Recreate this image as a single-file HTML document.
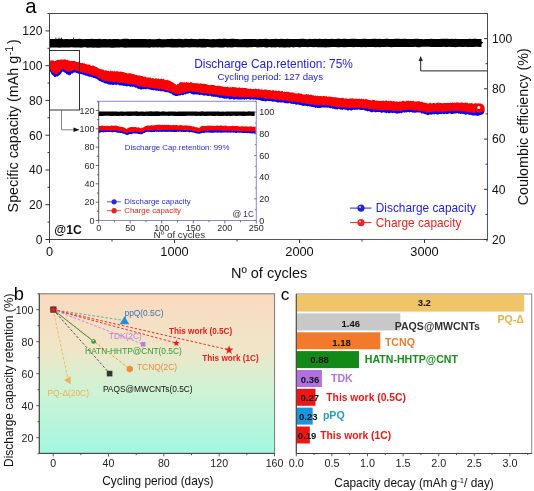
<!DOCTYPE html>
<html><head><meta charset="utf-8"><style>
html,body{margin:0;padding:0;background:#fff;width:534px;height:491px;overflow:hidden;}
svg{display:block;will-change:transform;}
text{font-family:"Liberation Sans", sans-serif;}
</style></head><body>
<svg width="534" height="491" viewBox="0 0 534 491" font-family='"Liberation Sans", sans-serif'>
<rect width="534" height="491" fill="#fff"/>
<path d="M49.5,38.9 L51.5,39.0 L53.5,38.9 L55.5,39.1 L57.5,39.1 L59.5,38.8 L61.5,38.8 L63.5,39.2 L65.5,38.9 L67.5,38.9 L69.5,39.2 L71.5,39.0 L73.5,39.2 L75.5,39.0 L77.5,39.1 L79.5,38.8 L81.5,39.1 L83.5,39.2 L85.5,39.0 L87.5,39.1 L89.5,39.1 L91.5,38.8 L93.5,39.1 L95.5,39.0 L97.5,38.9 L99.5,38.8 L101.5,39.2 L103.5,39.0 L105.5,39.1 L107.5,39.2 L109.5,39.1 L111.5,39.2 L113.5,38.9 L115.5,39.1 L117.5,39.0 L119.5,39.2 L121.5,39.2 L123.5,38.8 L125.5,38.8 L127.5,38.8 L129.5,39.2 L131.5,38.9 L133.5,39.0 L135.5,38.9 L137.5,39.0 L139.5,38.9 L141.5,38.9 L143.5,39.0 L145.5,39.0 L147.5,39.2 L149.5,39.1 L151.5,39.2 L153.5,39.2 L155.5,39.2 L157.5,39.1 L159.5,38.8 L161.5,39.2 L163.5,39.2 L165.5,39.2 L167.5,39.0 L169.5,39.1 L171.5,38.8 L173.5,39.1 L175.5,39.0 L177.5,38.9 L179.5,38.8 L181.5,39.1 L183.5,39.2 L185.5,38.8 L187.5,39.1 L189.5,38.9 L191.5,38.8 L193.5,38.9 L195.5,39.1 L197.5,39.2 L199.5,38.7 L201.5,39.0 L203.5,38.7 L205.5,39.1 L207.5,38.9 L209.5,39.2 L211.5,39.2 L213.5,39.0 L215.5,39.2 L217.5,38.9 L219.5,38.7 L221.5,39.0 L223.5,38.7 L225.5,38.8 L227.5,38.9 L229.5,39.0 L231.5,38.8 L233.5,38.7 L235.5,39.1 L237.5,38.9 L239.5,39.2 L241.5,39.2 L243.5,38.9 L245.5,38.9 L247.5,39.0 L249.5,39.0 L251.5,39.0 L253.5,39.0 L255.5,39.0 L257.5,39.2 L259.5,39.0 L261.5,38.9 L263.5,39.1 L265.5,38.8 L267.5,38.9 L269.5,39.2 L271.5,39.0 L273.5,39.0 L275.5,38.7 L277.5,38.9 L279.5,39.0 L281.5,38.7 L283.5,39.0 L285.5,39.0 L287.5,38.7 L289.5,39.0 L291.5,38.9 L293.5,39.0 L295.5,38.9 L297.5,39.0 L299.5,39.1 L301.5,38.7 L303.5,38.7 L305.5,39.0 L307.5,39.2 L309.5,38.8 L311.5,38.9 L313.5,39.0 L315.5,38.8 L317.5,38.9 L319.5,38.8 L321.5,38.9 L323.5,39.0 L325.5,38.8 L327.5,38.9 L329.5,39.1 L331.5,38.7 L333.5,39.0 L335.5,39.1 L337.5,38.8 L339.5,38.8 L341.5,39.1 L343.5,38.8 L345.5,38.8 L347.5,38.9 L349.5,39.0 L351.5,38.7 L353.5,38.8 L355.5,38.8 L357.5,39.1 L359.5,38.9 L361.5,39.1 L363.5,38.8 L365.5,38.8 L367.5,39.0 L369.5,39.1 L371.5,38.9 L373.5,38.8 L375.5,38.7 L377.5,38.9 L379.5,38.8 L381.5,39.1 L383.5,39.1 L385.5,38.8 L387.5,38.8 L389.5,39.1 L391.5,39.0 L393.5,39.1 L395.5,38.8 L397.5,38.7 L399.5,38.8 L401.5,39.1 L403.5,38.8 L405.5,38.8 L407.5,38.9 L409.5,38.9 L411.5,38.9 L413.5,39.1 L415.5,38.7 L417.5,38.7 L419.5,39.1 L421.5,39.1 L423.5,39.2 L425.5,38.9 L427.5,39.1 L429.5,39.1 L431.5,38.8 L433.5,39.0 L435.5,39.1 L437.5,39.0 L439.5,38.9 L441.5,38.8 L443.5,38.8 L445.5,38.8 L447.5,38.7 L449.5,39.0 L451.5,38.8 L453.5,39.1 L455.5,38.7 L457.5,39.1 L459.5,39.0 L461.5,39.1 L463.5,39.1 L465.5,39.1 L467.5,38.9 L469.5,38.7 L471.5,39.0 L473.5,38.7 L475.5,38.8 L477.5,39.0 L479.5,38.9 L481.5,38.9 L481.5,47.1 L479.5,47.0 L477.5,46.8 L475.5,46.8 L473.5,47.1 L471.5,46.9 L469.5,47.1 L467.5,46.9 L465.5,46.8 L463.5,47.0 L461.5,47.1 L459.5,46.8 L457.5,47.1 L455.5,47.2 L453.5,47.1 L451.5,47.1 L449.5,46.7 L447.5,47.0 L445.5,47.1 L443.5,46.7 L441.5,46.9 L439.5,46.9 L437.5,47.0 L435.5,46.9 L433.5,47.0 L431.5,47.1 L429.5,46.7 L427.5,46.8 L425.5,46.8 L423.5,46.8 L421.5,46.8 L419.5,47.2 L417.5,47.2 L415.5,46.8 L413.5,47.0 L411.5,46.9 L409.5,46.9 L407.5,47.0 L405.5,47.1 L403.5,47.1 L401.5,47.0 L399.5,46.9 L397.5,47.0 L395.5,46.9 L393.5,47.1 L391.5,47.2 L389.5,47.0 L387.5,46.8 L385.5,46.9 L383.5,47.0 L381.5,47.1 L379.5,47.2 L377.5,47.0 L375.5,47.2 L373.5,47.1 L371.5,47.1 L369.5,47.0 L367.5,47.1 L365.5,47.2 L363.5,47.1 L361.5,47.2 L359.5,47.1 L357.5,47.0 L355.5,47.1 L353.5,47.2 L351.5,46.9 L349.5,47.1 L347.5,47.1 L345.5,47.3 L343.5,47.3 L341.5,47.1 L339.5,47.3 L337.5,47.3 L335.5,47.0 L333.5,47.1 L331.5,47.0 L329.5,47.3 L327.5,47.2 L325.5,47.4 L323.5,47.3 L321.5,47.2 L319.5,47.3 L317.5,47.2 L315.5,47.0 L313.5,47.2 L311.5,46.9 L309.5,47.0 L307.5,47.3 L305.5,47.0 L303.5,47.0 L301.5,47.0 L299.5,47.4 L297.5,47.0 L295.5,47.0 L293.5,47.4 L291.5,47.0 L289.5,47.4 L287.5,47.3 L285.5,47.4 L283.5,47.5 L281.5,47.3 L279.5,47.4 L277.5,47.0 L275.5,47.4 L273.5,47.2 L271.5,47.4 L269.5,47.1 L267.5,47.4 L265.5,47.5 L263.5,47.0 L261.5,47.2 L259.5,47.3 L257.5,47.4 L255.5,47.1 L253.5,47.1 L251.5,47.2 L249.5,47.3 L247.5,47.4 L245.5,47.2 L243.5,47.2 L241.5,47.2 L239.5,47.2 L237.5,47.3 L235.5,47.1 L233.5,47.3 L231.5,47.5 L229.5,47.3 L227.5,47.4 L225.5,47.1 L223.5,47.4 L221.5,47.5 L219.5,47.4 L217.5,47.3 L215.5,47.3 L213.5,47.4 L211.5,47.5 L209.5,47.2 L207.5,47.1 L205.5,47.5 L203.5,47.6 L201.5,47.4 L199.5,47.3 L197.5,47.5 L195.5,47.2 L193.5,47.3 L191.5,47.2 L189.5,47.4 L187.5,47.3 L185.5,47.2 L183.5,47.5 L181.5,47.6 L179.5,47.3 L177.5,47.5 L175.5,47.4 L173.5,47.6 L171.5,47.4 L169.5,47.3 L167.5,47.3 L165.5,47.2 L163.5,47.4 L161.5,47.4 L159.5,47.3 L157.5,47.4 L155.5,47.3 L153.5,47.6 L151.5,47.3 L149.5,47.7 L147.5,47.4 L145.5,47.5 L143.5,47.4 L141.5,47.6 L139.5,47.6 L137.5,47.5 L135.5,47.5 L133.5,47.6 L131.5,47.6 L129.5,47.4 L127.5,47.6 L125.5,47.7 L123.5,47.5 L121.5,47.3 L119.5,47.4 L117.5,47.6 L115.5,47.6 L113.5,47.7 L111.5,47.7 L109.5,47.4 L107.5,47.4 L105.5,47.4 L103.5,47.4 L101.5,47.6 L99.5,47.7 L97.5,47.7 L95.5,47.4 L93.5,47.7 L91.5,47.4 L89.5,47.5 L87.5,47.7 L85.5,47.3 L83.5,47.3 L81.5,47.7 L79.5,47.4 L77.5,47.5 L75.5,47.6 L73.5,47.6 L71.5,47.3 L69.5,47.5 L67.5,47.5 L65.5,47.6 L63.5,47.4 L61.5,47.6 L59.5,47.8 L57.5,47.5 L55.5,47.6 L53.5,47.4 L51.5,47.5 L49.5,47.7Z" fill="#000"/>
<rect x="55.5" y="37.6" width="0.8" height="2" fill="#000"/>
<rect x="58.5" y="37.6" width="0.8" height="2" fill="#000"/>
<rect x="61" y="37.6" width="0.8" height="2" fill="#000"/>
<rect x="73" y="37.6" width="0.8" height="2" fill="#000"/>
<path d="M483.5,42.5 L478,40 L479,45.5Z" fill="#000"/>
<path d="M49.5,66.9 L50.5,68.3 L51.5,69.8 L52.5,70.2 L53.5,71.5 L54.5,71.7 L55.5,72.2 L56.5,72.0 L57.5,71.2 L58.5,71.0 L59.5,70.3 L60.5,69.5 L61.5,67.8 L62.5,67.0 L63.5,67.0 L64.5,67.8 L65.5,68.6 L66.5,68.9 L67.5,69.6 L68.5,69.9 L69.5,70.1 L70.5,69.6 L71.5,69.0 L72.5,68.2 L73.5,68.3 L74.5,68.3 L75.5,68.1 L76.5,69.1 L77.5,69.2 L78.5,69.0 L79.5,70.0 L80.5,69.5 L81.5,70.0 L82.5,70.6 L83.5,70.7 L84.5,71.0 L85.5,71.3 L86.5,71.4 L87.5,71.5 L88.5,71.7 L89.5,71.9 L90.5,72.7 L91.5,73.1 L92.5,73.1 L93.5,73.6 L94.5,73.5 L95.5,73.9 L96.5,74.5 L97.5,75.6 L98.5,75.4 L99.5,76.4 L100.5,76.7 L101.5,77.6 L102.5,77.6 L103.5,78.0 L104.5,78.4 L105.5,78.9 L106.5,79.5 L107.5,79.3 L108.5,79.9 L109.5,79.4 L110.5,79.6 L111.5,79.6 L112.5,79.7 L113.5,80.3 L114.5,80.4 L115.5,79.9 L116.5,80.0 L117.5,80.3 L118.5,80.6 L119.5,80.8 L120.5,80.8 L121.5,80.8 L122.5,80.6 L123.5,81.0 L124.5,81.0 L125.5,81.5 L126.5,81.7 L127.5,81.5 L128.5,81.7 L129.5,82.3 L130.5,81.8 L131.5,82.6 L132.5,82.8 L133.5,83.0 L134.5,82.6 L135.5,83.0 L136.5,83.4 L137.5,83.9 L138.5,84.5 L139.5,84.7 L140.5,84.7 L141.5,85.2 L142.5,84.9 L143.5,85.0 L144.5,85.1 L145.5,84.5 L146.5,85.2 L147.5,85.3 L148.5,85.3 L149.5,85.5 L150.5,85.6 L151.5,85.6 L152.5,86.0 L153.5,85.7 L154.5,86.3 L155.5,86.5 L156.5,86.5 L157.5,86.7 L158.5,87.3 L159.5,87.4 L160.5,86.8 L161.5,87.6 L162.5,87.6 L163.5,87.3 L164.5,87.7 L165.5,87.8 L166.5,87.9 L167.5,88.5 L168.5,89.1 L169.5,88.9 L170.5,89.8 L171.5,90.1 L172.5,90.1 L173.5,91.2 L174.5,91.4 L175.5,92.1 L176.5,92.4 L177.5,92.2 L178.5,91.6 L179.5,91.7 L180.5,91.6 L181.5,91.3 L182.5,90.8 L183.5,90.9 L184.5,90.4 L185.5,89.9 L186.5,89.6 L187.5,89.5 L188.5,89.4 L189.5,89.2 L190.5,89.4 L191.5,89.7 L192.5,89.7 L193.5,89.7 L194.5,90.0 L195.5,89.8 L196.5,90.1 L197.5,90.5 L198.5,90.3 L199.5,90.3 L200.5,91.1 L201.5,91.0 L202.5,90.9 L203.5,91.0 L204.5,91.3 L205.5,91.5 L206.5,91.3 L207.5,91.2 L208.5,91.5 L209.5,92.1 L210.5,91.7 L211.5,92.1 L212.5,91.9 L213.5,92.1 L214.5,92.1 L215.5,92.4 L216.5,92.3 L217.5,92.3 L218.5,92.6 L219.5,92.8 L220.5,93.2 L221.5,93.0 L222.5,93.1 L223.5,93.6 L224.5,93.7 L225.5,94.1 L226.5,93.7 L227.5,94.1 L228.5,94.2 L229.5,94.0 L230.5,94.9 L231.5,94.2 L232.5,94.2 L233.5,94.6 L234.5,94.4 L235.5,94.8 L236.5,94.6 L237.5,94.5 L238.5,94.5 L239.5,95.1 L240.5,94.8 L241.5,95.3 L242.5,95.1 L243.5,95.5 L244.5,95.0 L245.5,95.0 L246.5,95.1 L247.5,95.6 L248.5,95.5 L249.5,95.3 L250.5,95.1 L251.5,95.5 L252.5,95.6 L253.5,95.2 L254.5,94.5 L255.5,94.5 L256.5,94.7 L257.5,95.0 L258.5,95.0 L259.5,95.2 L260.5,95.8 L261.5,96.2 L262.5,95.7 L263.5,96.6 L264.5,96.3 L265.5,96.7 L266.5,96.9 L267.5,97.1 L268.5,96.4 L269.5,96.8 L270.5,97.2 L271.5,97.6 L272.5,96.9 L273.5,97.3 L274.5,97.9 L275.5,97.3 L276.5,97.7 L277.5,97.8 L278.5,98.2 L279.5,98.5 L280.5,98.0 L281.5,98.6 L282.5,98.7 L283.5,98.9 L284.5,98.7 L285.5,99.1 L286.5,98.7 L287.5,98.9 L288.5,98.8 L289.5,99.4 L290.5,99.3 L291.5,99.2 L292.5,99.2 L293.5,99.9 L294.5,99.9 L295.5,100.1 L296.5,100.0 L297.5,100.2 L298.5,100.0 L299.5,100.6 L300.5,100.1 L301.5,100.7 L302.5,101.1 L303.5,101.2 L304.5,100.8 L305.5,101.1 L306.5,101.8 L307.5,101.8 L308.5,102.2 L309.5,102.3 L310.5,102.1 L311.5,102.7 L312.5,102.8 L313.5,102.7 L314.5,103.0 L315.5,102.8 L316.5,103.1 L317.5,103.6 L318.5,102.8 L319.5,103.3 L320.5,102.8 L321.5,102.8 L322.5,103.3 L323.5,103.0 L324.5,102.8 L325.5,102.9 L326.5,103.4 L327.5,103.5 L328.5,103.1 L329.5,103.5 L330.5,104.3 L331.5,103.8 L332.5,104.3 L333.5,104.3 L334.5,104.8 L335.5,104.8 L336.5,105.1 L337.5,105.0 L338.5,104.8 L339.5,104.9 L340.5,104.9 L341.5,105.6 L342.5,105.1 L343.5,105.1 L344.5,106.1 L345.5,105.5 L346.5,106.2 L347.5,105.6 L348.5,105.9 L349.5,105.7 L350.5,106.2 L351.5,106.0 L352.5,105.9 L353.5,106.0 L354.5,106.1 L355.5,105.5 L356.5,105.7 L357.5,105.6 L358.5,105.2 L359.5,105.8 L360.5,105.7 L361.5,106.0 L362.5,105.6 L363.5,106.1 L364.5,106.2 L365.5,106.6 L366.5,106.1 L367.5,106.5 L368.5,106.8 L369.5,106.6 L370.5,107.2 L371.5,107.5 L372.5,107.3 L373.5,107.6 L374.5,107.7 L375.5,107.5 L376.5,107.6 L377.5,108.3 L378.5,107.7 L379.5,107.8 L380.5,107.6 L381.5,107.7 L382.5,107.7 L383.5,108.5 L384.5,108.3 L385.5,108.5 L386.5,108.7 L387.5,108.4 L388.5,108.7 L389.5,108.4 L390.5,108.4 L391.5,108.9 L392.5,108.9 L393.5,109.0 L394.5,108.6 L395.5,108.9 L396.5,108.6 L397.5,109.2 L398.5,109.1 L399.5,108.5 L400.5,108.9 L401.5,108.2 L402.5,108.0 L403.5,108.5 L404.5,108.0 L405.5,108.1 L406.5,108.1 L407.5,107.4 L408.5,108.0 L409.5,107.5 L410.5,107.8 L411.5,107.8 L412.5,108.3 L413.5,108.4 L414.5,108.1 L415.5,108.0 L416.5,108.3 L417.5,108.5 L418.5,108.3 L419.5,108.4 L420.5,109.2 L421.5,109.3 L422.5,109.8 L423.5,110.1 L424.5,110.2 L425.5,110.0 L426.5,110.1 L427.5,110.3 L428.5,110.3 L429.5,110.2 L430.5,110.1 L431.5,109.9 L432.5,110.2 L433.5,109.6 L434.5,109.6 L435.5,109.9 L436.5,109.8 L437.5,109.3 L438.5,109.3 L439.5,109.8 L440.5,109.0 L441.5,109.1 L442.5,109.4 L443.5,109.4 L444.5,109.0 L445.5,108.9 L446.5,109.0 L447.5,109.5 L448.5,109.2 L449.5,109.6 L450.5,109.4 L451.5,109.5 L452.5,108.6 L453.5,108.7 L454.5,108.5 L455.5,108.8 L456.5,108.7 L457.5,108.4 L458.5,108.9 L459.5,108.7 L460.5,109.0 L461.5,109.1 L462.5,109.8 L463.5,109.6 L464.5,109.6 L465.5,109.5 L466.5,110.1 L467.5,110.4 L468.5,110.6 L469.5,110.9 L470.5,110.9 L471.5,110.4 L472.5,110.3 L473.5,111.0 L474.5,111.0 L475.5,110.8 L476.5,111.2 L477.5,111.0 L478.5,110.8 L479.5,110.7 L479.5,115.2 L478.5,115.7 L477.5,115.8 L476.5,115.8 L475.5,115.3 L474.5,115.4 L473.5,115.5 L472.5,115.4 L471.5,115.1 L470.5,114.8 L469.5,114.9 L468.5,114.4 L467.5,114.3 L466.5,114.6 L465.5,114.8 L464.5,114.2 L463.5,114.0 L462.5,113.8 L461.5,113.7 L460.5,113.9 L459.5,113.5 L458.5,113.8 L457.5,113.0 L456.5,113.2 L455.5,113.4 L454.5,113.4 L453.5,113.8 L452.5,113.9 L451.5,114.0 L450.5,113.8 L449.5,113.3 L448.5,113.8 L447.5,113.9 L446.5,113.9 L445.5,113.7 L444.5,114.1 L443.5,114.3 L442.5,113.6 L441.5,114.2 L440.5,113.9 L439.5,114.1 L438.5,114.5 L437.5,114.5 L436.5,114.3 L435.5,113.9 L434.5,114.6 L433.5,114.0 L432.5,114.3 L431.5,114.8 L430.5,114.4 L429.5,114.4 L428.5,115.1 L427.5,115.2 L426.5,114.5 L425.5,114.3 L424.5,113.9 L423.5,113.5 L422.5,113.3 L421.5,113.7 L420.5,112.6 L419.5,112.5 L418.5,112.4 L417.5,112.3 L416.5,112.6 L415.5,112.8 L414.5,112.8 L413.5,112.6 L412.5,112.7 L411.5,111.9 L410.5,112.1 L409.5,112.6 L408.5,111.9 L407.5,112.1 L406.5,112.4 L405.5,112.3 L404.5,112.7 L403.5,112.3 L402.5,112.6 L401.5,113.4 L400.5,112.7 L399.5,113.5 L398.5,113.0 L397.5,113.7 L396.5,113.4 L395.5,113.3 L394.5,112.8 L393.5,112.7 L392.5,113.3 L391.5,112.7 L390.5,112.7 L389.5,113.2 L388.5,113.2 L387.5,112.5 L386.5,113.2 L385.5,112.8 L384.5,112.6 L383.5,112.3 L382.5,112.5 L381.5,113.0 L380.5,112.3 L379.5,112.1 L378.5,112.1 L377.5,112.0 L376.5,112.1 L375.5,112.6 L374.5,111.8 L373.5,111.7 L372.5,112.3 L371.5,112.2 L370.5,112.0 L369.5,111.2 L368.5,111.1 L367.5,111.4 L366.5,110.8 L365.5,110.8 L364.5,110.2 L363.5,109.8 L362.5,109.9 L361.5,110.0 L360.5,109.9 L359.5,109.6 L358.5,109.6 L357.5,109.7 L356.5,109.7 L355.5,109.8 L354.5,110.1 L353.5,109.6 L352.5,110.0 L351.5,110.4 L350.5,110.4 L349.5,109.8 L348.5,110.6 L347.5,110.5 L346.5,109.8 L345.5,109.7 L344.5,109.6 L343.5,109.3 L342.5,110.1 L341.5,109.5 L340.5,109.8 L339.5,109.0 L338.5,108.8 L337.5,109.5 L336.5,109.3 L335.5,109.3 L334.5,108.9 L333.5,108.6 L332.5,108.7 L331.5,107.9 L330.5,108.2 L329.5,108.0 L328.5,107.5 L327.5,107.8 L326.5,107.4 L325.5,107.5 L324.5,107.4 L323.5,107.4 L322.5,107.4 L321.5,107.6 L320.5,108.0 L319.5,108.0 L318.5,107.9 L317.5,107.9 L316.5,107.4 L315.5,108.0 L314.5,107.3 L313.5,106.9 L312.5,107.0 L311.5,107.0 L310.5,106.5 L309.5,106.6 L308.5,106.1 L307.5,106.6 L306.5,106.0 L305.5,105.8 L304.5,105.7 L303.5,105.9 L302.5,105.8 L301.5,105.3 L300.5,105.0 L299.5,105.0 L298.5,104.4 L297.5,104.5 L296.5,104.8 L295.5,104.6 L294.5,103.8 L293.5,104.3 L292.5,103.7 L291.5,104.1 L290.5,103.4 L289.5,103.1 L288.5,103.3 L287.5,103.5 L286.5,103.0 L285.5,103.3 L284.5,103.0 L283.5,102.6 L282.5,102.5 L281.5,102.6 L280.5,102.4 L279.5,102.2 L278.5,102.4 L277.5,102.5 L276.5,102.1 L275.5,101.7 L274.5,101.6 L273.5,101.7 L272.5,101.8 L271.5,101.3 L270.5,101.1 L269.5,101.3 L268.5,101.1 L267.5,100.8 L266.5,101.2 L265.5,101.4 L264.5,100.9 L263.5,100.9 L262.5,100.9 L261.5,100.7 L260.5,100.6 L259.5,100.0 L258.5,100.1 L257.5,99.4 L256.5,100.0 L255.5,99.4 L254.5,99.4 L253.5,99.8 L252.5,99.3 L251.5,99.2 L250.5,99.8 L249.5,99.6 L248.5,99.1 L247.5,99.1 L246.5,99.4 L245.5,99.1 L244.5,99.8 L243.5,99.2 L242.5,99.3 L241.5,99.4 L240.5,99.5 L239.5,99.4 L238.5,99.6 L237.5,99.6 L236.5,99.3 L235.5,98.9 L234.5,99.7 L233.5,99.4 L232.5,98.8 L231.5,99.0 L230.5,99.3 L229.5,99.4 L228.5,98.5 L227.5,98.4 L226.5,98.7 L225.5,98.4 L224.5,98.7 L223.5,98.5 L222.5,97.9 L221.5,97.8 L220.5,97.8 L219.5,97.9 L218.5,97.2 L217.5,97.2 L216.5,96.8 L215.5,97.1 L214.5,96.4 L213.5,97.1 L212.5,96.5 L211.5,96.4 L210.5,95.8 L209.5,95.8 L208.5,95.9 L207.5,96.1 L206.5,95.6 L205.5,95.3 L204.5,95.8 L203.5,95.4 L202.5,95.1 L201.5,94.7 L200.5,94.7 L199.5,95.2 L198.5,94.4 L197.5,94.6 L196.5,94.6 L195.5,94.2 L194.5,94.5 L193.5,94.4 L192.5,94.2 L191.5,93.9 L190.5,93.2 L189.5,93.1 L188.5,93.6 L187.5,93.7 L186.5,93.8 L185.5,94.6 L184.5,94.2 L183.5,94.9 L182.5,95.2 L181.5,94.7 L180.5,95.6 L179.5,95.5 L178.5,95.6 L177.5,95.9 L176.5,96.1 L175.5,96.0 L174.5,95.4 L173.5,95.3 L172.5,94.8 L171.5,93.6 L170.5,93.5 L169.5,92.9 L168.5,92.4 L167.5,92.3 L166.5,92.1 L165.5,92.2 L164.5,91.7 L163.5,91.3 L162.5,91.3 L161.5,91.3 L160.5,91.2 L159.5,90.8 L158.5,91.0 L157.5,90.4 L156.5,90.7 L155.5,90.5 L154.5,90.0 L153.5,90.4 L152.5,89.9 L151.5,89.9 L150.5,89.7 L149.5,89.6 L148.5,89.3 L147.5,88.8 L146.5,89.2 L145.5,89.3 L144.5,89.1 L143.5,89.2 L142.5,89.1 L141.5,89.8 L140.5,89.6 L139.5,88.8 L138.5,88.9 L137.5,88.6 L136.5,87.6 L135.5,87.8 L134.5,87.0 L133.5,86.6 L132.5,87.0 L131.5,86.6 L130.5,86.8 L129.5,86.6 L128.5,86.0 L127.5,86.3 L126.5,86.4 L125.5,85.9 L124.5,85.8 L123.5,86.0 L122.5,85.4 L121.5,85.3 L120.5,85.3 L119.5,85.4 L118.5,84.7 L117.5,84.5 L116.5,85.1 L115.5,84.8 L114.5,84.5 L113.5,85.0 L112.5,84.9 L111.5,84.5 L110.5,84.8 L109.5,84.6 L108.5,84.4 L107.5,83.9 L106.5,83.4 L105.5,83.6 L104.5,83.3 L103.5,82.5 L102.5,82.3 L101.5,82.0 L100.5,81.2 L99.5,81.0 L98.5,80.3 L97.5,79.6 L96.5,78.8 L95.5,78.6 L94.5,78.0 L93.5,78.1 L92.5,77.3 L91.5,77.3 L90.5,76.8 L89.5,76.8 L88.5,76.6 L87.5,75.9 L86.5,75.6 L85.5,75.7 L84.5,75.1 L83.5,75.0 L82.5,74.4 L81.5,73.9 L80.5,74.0 L79.5,74.0 L78.5,73.7 L77.5,73.2 L76.5,72.9 L75.5,72.4 L74.5,72.4 L73.5,72.6 L72.5,73.7 L71.5,73.6 L70.5,75.0 L69.5,75.2 L68.5,75.1 L67.5,74.3 L66.5,74.3 L65.5,73.0 L64.5,72.6 L63.5,71.8 L62.5,71.6 L61.5,72.7 L60.5,74.3 L59.5,75.0 L58.5,75.7 L57.5,76.6 L56.5,76.3 L55.5,77.1 L54.5,76.9 L53.5,75.7 L52.5,75.1 L51.5,74.3 L50.5,71.8 L49.5,71.2Z" fill="#0000ff"/>
<path d="M49.5,60.4 L50.5,60.8 L51.5,60.2 L52.5,60.4 L53.5,60.6 L54.5,61.3 L55.5,61.0 L56.5,60.2 L57.5,60.0 L58.5,59.7 L59.5,59.9 L60.5,59.4 L61.5,59.6 L62.5,59.7 L63.5,59.5 L64.5,59.3 L65.5,59.6 L66.5,60.1 L67.5,59.8 L68.5,60.5 L69.5,60.4 L70.5,60.9 L71.5,60.9 L72.5,61.0 L73.5,60.9 L74.5,60.8 L75.5,61.5 L76.5,61.8 L77.5,62.2 L78.5,61.7 L79.5,61.9 L80.5,62.9 L81.5,63.0 L82.5,63.0 L83.5,63.5 L84.5,63.3 L85.5,63.9 L86.5,64.3 L87.5,64.5 L88.5,64.4 L89.5,64.6 L90.5,65.4 L91.5,65.9 L92.5,65.5 L93.5,65.6 L94.5,66.0 L95.5,67.0 L96.5,67.1 L97.5,67.6 L98.5,68.6 L99.5,68.7 L100.5,68.9 L101.5,69.6 L102.5,69.3 L103.5,69.8 L104.5,70.5 L105.5,70.3 L106.5,70.4 L107.5,71.0 L108.5,70.8 L109.5,71.4 L110.5,70.6 L111.5,71.3 L112.5,70.9 L113.5,71.4 L114.5,71.1 L115.5,71.4 L116.5,71.2 L117.5,71.2 L118.5,71.4 L119.5,71.8 L120.5,71.6 L121.5,71.7 L122.5,72.1 L123.5,72.0 L124.5,72.5 L125.5,72.9 L126.5,73.1 L127.5,73.4 L128.5,73.3 L129.5,73.2 L130.5,73.3 L131.5,73.8 L132.5,73.8 L133.5,74.3 L134.5,74.2 L135.5,74.9 L136.5,75.0 L137.5,75.3 L138.5,75.6 L139.5,75.6 L140.5,75.8 L141.5,75.9 L142.5,75.9 L143.5,76.8 L144.5,76.8 L145.5,76.6 L146.5,77.6 L147.5,77.4 L148.5,77.6 L149.5,77.6 L150.5,77.5 L151.5,78.5 L152.5,77.9 L153.5,78.2 L154.5,78.9 L155.5,78.2 L156.5,78.6 L157.5,78.7 L158.5,78.6 L159.5,79.3 L160.5,78.9 L161.5,78.7 L162.5,79.2 L163.5,78.8 L164.5,79.7 L165.5,80.0 L166.5,80.2 L167.5,79.7 L168.5,80.5 L169.5,80.5 L170.5,81.3 L171.5,81.7 L172.5,82.3 L173.5,82.8 L174.5,83.8 L175.5,83.9 L176.5,85.3 L177.5,83.9 L178.5,84.1 L179.5,82.8 L180.5,82.0 L181.5,82.3 L182.5,82.2 L183.5,82.5 L184.5,82.3 L185.5,82.4 L186.5,82.0 L187.5,82.5 L188.5,82.4 L189.5,82.9 L190.5,82.1 L191.5,82.3 L192.5,83.0 L193.5,83.3 L194.5,83.0 L195.5,83.3 L196.5,83.3 L197.5,83.3 L198.5,83.5 L199.5,83.7 L200.5,83.3 L201.5,83.6 L202.5,84.1 L203.5,83.8 L204.5,84.1 L205.5,84.0 L206.5,84.2 L207.5,84.7 L208.5,84.9 L209.5,85.2 L210.5,84.9 L211.5,84.8 L212.5,85.1 L213.5,85.0 L214.5,85.3 L215.5,85.8 L216.5,85.9 L217.5,85.7 L218.5,85.8 L219.5,85.8 L220.5,86.0 L221.5,86.4 L222.5,86.3 L223.5,87.0 L224.5,86.8 L225.5,86.7 L226.5,86.9 L227.5,86.6 L228.5,87.3 L229.5,87.4 L230.5,87.1 L231.5,87.5 L232.5,87.1 L233.5,87.1 L234.5,87.2 L235.5,87.2 L236.5,87.6 L237.5,87.7 L238.5,87.8 L239.5,87.3 L240.5,88.0 L241.5,87.8 L242.5,87.8 L243.5,88.1 L244.5,88.1 L245.5,88.0 L246.5,88.3 L247.5,88.6 L248.5,88.7 L249.5,89.0 L250.5,88.4 L251.5,89.1 L252.5,89.0 L253.5,88.9 L254.5,89.1 L255.5,88.4 L256.5,89.1 L257.5,89.3 L258.5,88.7 L259.5,89.2 L260.5,89.7 L261.5,89.2 L262.5,89.8 L263.5,89.9 L264.5,89.6 L265.5,89.4 L266.5,89.6 L267.5,90.2 L268.5,90.0 L269.5,90.0 L270.5,90.2 L271.5,90.7 L272.5,90.2 L273.5,90.1 L274.5,91.0 L275.5,90.5 L276.5,90.7 L277.5,91.3 L278.5,90.8 L279.5,90.7 L280.5,91.5 L281.5,91.1 L282.5,91.1 L283.5,91.9 L284.5,91.4 L285.5,92.1 L286.5,91.7 L287.5,91.8 L288.5,91.8 L289.5,92.2 L290.5,92.4 L291.5,92.4 L292.5,92.6 L293.5,92.6 L294.5,93.2 L295.5,93.4 L296.5,93.4 L297.5,93.6 L298.5,93.1 L299.5,93.4 L300.5,93.5 L301.5,93.6 L302.5,94.4 L303.5,94.4 L304.5,94.6 L305.5,94.4 L306.5,94.1 L307.5,94.5 L308.5,94.2 L309.5,95.1 L310.5,94.6 L311.5,94.8 L312.5,95.6 L313.5,95.1 L314.5,95.9 L315.5,95.5 L316.5,95.9 L317.5,95.5 L318.5,96.2 L319.5,95.9 L320.5,95.9 L321.5,96.3 L322.5,96.3 L323.5,96.1 L324.5,96.0 L325.5,96.5 L326.5,96.1 L327.5,97.0 L328.5,96.6 L329.5,96.6 L330.5,96.8 L331.5,96.7 L332.5,97.0 L333.5,97.3 L334.5,97.3 L335.5,97.3 L336.5,97.4 L337.5,97.6 L338.5,98.0 L339.5,97.8 L340.5,98.2 L341.5,98.0 L342.5,97.8 L343.5,98.0 L344.5,98.7 L345.5,98.4 L346.5,98.4 L347.5,98.7 L348.5,99.0 L349.5,98.6 L350.5,98.6 L351.5,98.6 L352.5,98.3 L353.5,98.7 L354.5,98.7 L355.5,98.7 L356.5,98.7 L357.5,98.7 L358.5,98.9 L359.5,98.4 L360.5,99.2 L361.5,98.5 L362.5,99.3 L363.5,98.8 L364.5,99.5 L365.5,99.1 L366.5,99.0 L367.5,99.6 L368.5,99.9 L369.5,100.0 L370.5,100.2 L371.5,100.4 L372.5,99.7 L373.5,100.1 L374.5,100.0 L375.5,100.7 L376.5,100.4 L377.5,100.7 L378.5,100.8 L379.5,101.1 L380.5,100.8 L381.5,101.0 L382.5,100.8 L383.5,100.4 L384.5,101.2 L385.5,100.5 L386.5,100.6 L387.5,101.3 L388.5,100.8 L389.5,101.2 L390.5,100.7 L391.5,100.9 L392.5,101.4 L393.5,100.9 L394.5,101.3 L395.5,101.8 L396.5,101.2 L397.5,101.7 L398.5,101.7 L399.5,101.5 L400.5,101.6 L401.5,101.5 L402.5,100.8 L403.5,100.9 L404.5,101.2 L405.5,101.5 L406.5,100.8 L407.5,101.1 L408.5,100.6 L409.5,101.2 L410.5,100.9 L411.5,101.1 L412.5,101.2 L413.5,100.8 L414.5,101.4 L415.5,101.5 L416.5,101.6 L417.5,101.2 L418.5,101.2 L419.5,101.2 L420.5,102.0 L421.5,101.8 L422.5,102.0 L423.5,102.4 L424.5,102.8 L425.5,102.7 L426.5,102.9 L427.5,103.4 L428.5,103.4 L429.5,103.0 L430.5,102.7 L431.5,103.5 L432.5,103.3 L433.5,103.1 L434.5,102.9 L435.5,103.4 L436.5,102.9 L437.5,102.7 L438.5,102.6 L439.5,102.9 L440.5,103.1 L441.5,102.9 L442.5,103.4 L443.5,103.1 L444.5,103.0 L445.5,103.1 L446.5,103.1 L447.5,103.1 L448.5,102.9 L449.5,102.9 L450.5,102.8 L451.5,103.1 L452.5,102.5 L453.5,103.0 L454.5,102.5 L455.5,103.0 L456.5,102.3 L457.5,102.6 L458.5,102.6 L459.5,102.9 L460.5,102.5 L461.5,102.6 L462.5,102.5 L463.5,103.0 L464.5,103.0 L465.5,102.6 L466.5,102.8 L467.5,102.8 L468.5,103.6 L469.5,103.2 L470.5,103.3 L471.5,103.1 L472.5,103.5 L473.5,103.7 L474.5,103.6 L475.5,103.1 L476.5,103.5 L477.5,103.6 L478.5,103.3 L479.5,104.0 L479.5,112.8 L478.5,112.8 L477.5,113.0 L476.5,113.0 L475.5,112.8 L474.5,113.1 L473.5,112.7 L472.5,112.5 L471.5,112.2 L470.5,112.6 L469.5,112.4 L468.5,112.5 L467.5,112.1 L466.5,111.7 L465.5,111.5 L464.5,111.5 L463.5,111.3 L462.5,111.8 L461.5,111.4 L460.5,111.0 L459.5,111.2 L458.5,111.0 L457.5,110.4 L456.5,111.1 L455.5,110.7 L454.5,111.4 L453.5,110.7 L452.5,110.8 L451.5,110.8 L450.5,111.4 L449.5,111.4 L448.5,111.3 L447.5,110.9 L446.5,111.2 L445.5,111.5 L444.5,110.9 L443.5,111.7 L442.5,111.7 L441.5,111.8 L440.5,111.6 L439.5,111.6 L438.5,111.9 L437.5,111.3 L436.5,111.4 L435.5,111.2 L434.5,111.4 L433.5,112.0 L432.5,111.5 L431.5,112.2 L430.5,112.0 L429.5,112.6 L428.5,112.6 L427.5,112.6 L426.5,112.7 L425.5,111.7 L424.5,111.7 L423.5,111.5 L422.5,111.3 L421.5,111.3 L420.5,111.3 L419.5,111.0 L418.5,111.0 L417.5,110.7 L416.5,110.3 L415.5,110.4 L414.5,110.5 L413.5,110.4 L412.5,109.9 L411.5,109.8 L410.5,110.0 L409.5,109.5 L408.5,110.1 L407.5,109.4 L406.5,110.1 L405.5,110.0 L404.5,109.9 L403.5,110.3 L402.5,110.3 L401.5,110.9 L400.5,110.9 L399.5,110.7 L398.5,111.1 L397.5,111.1 L396.5,110.4 L395.5,111.0 L394.5,110.9 L393.5,111.0 L392.5,110.8 L391.5,110.4 L390.5,110.2 L389.5,110.5 L388.5,110.1 L387.5,110.5 L386.5,110.3 L385.5,110.5 L384.5,110.0 L383.5,109.9 L382.5,110.4 L381.5,110.1 L380.5,109.8 L379.5,110.0 L378.5,109.8 L377.5,109.9 L376.5,109.8 L375.5,109.5 L374.5,110.1 L373.5,109.9 L372.5,109.6 L371.5,109.1 L370.5,108.8 L369.5,109.2 L368.5,109.1 L367.5,108.8 L366.5,108.2 L365.5,108.5 L364.5,108.2 L363.5,107.9 L362.5,108.0 L361.5,107.7 L360.5,107.7 L359.5,107.7 L358.5,108.0 L357.5,107.3 L356.5,107.7 L355.5,108.1 L354.5,107.9 L353.5,107.8 L352.5,108.1 L351.5,107.4 L350.5,108.2 L349.5,108.0 L348.5,108.1 L347.5,107.8 L346.5,108.0 L345.5,107.4 L344.5,107.7 L343.5,107.3 L342.5,107.8 L341.5,107.6 L340.5,107.2 L339.5,107.4 L338.5,106.9 L337.5,107.0 L336.5,106.5 L335.5,107.0 L334.5,106.8 L333.5,106.6 L332.5,105.8 L331.5,106.3 L330.5,105.5 L329.5,105.8 L328.5,105.6 L327.5,105.0 L326.5,105.2 L325.5,105.5 L324.5,105.3 L323.5,105.0 L322.5,105.5 L321.5,105.1 L320.5,105.6 L319.5,105.1 L318.5,104.8 L317.5,105.6 L316.5,104.8 L315.5,105.0 L314.5,105.3 L313.5,104.5 L312.5,104.6 L311.5,104.6 L310.5,104.2 L309.5,103.8 L308.5,104.0 L307.5,104.0 L306.5,103.6 L305.5,103.5 L304.5,103.0 L303.5,103.0 L302.5,103.3 L301.5,103.2 L300.5,102.1 L299.5,102.2 L298.5,102.1 L297.5,102.4 L296.5,101.8 L295.5,101.6 L294.5,102.0 L293.5,101.4 L292.5,102.0 L291.5,101.4 L290.5,101.6 L289.5,101.5 L288.5,100.8 L287.5,101.2 L286.5,100.8 L285.5,100.5 L284.5,100.2 L283.5,100.7 L282.5,100.5 L281.5,100.2 L280.5,100.5 L279.5,99.9 L278.5,100.0 L277.5,99.6 L276.5,99.7 L275.5,100.0 L274.5,99.6 L273.5,99.1 L272.5,99.1 L271.5,99.3 L270.5,98.9 L269.5,99.3 L268.5,98.4 L267.5,99.0 L266.5,98.7 L265.5,98.7 L264.5,98.2 L263.5,97.7 L262.5,97.7 L261.5,98.0 L260.5,97.3 L259.5,97.2 L258.5,97.7 L257.5,97.6 L256.5,97.4 L255.5,97.3 L254.5,97.0 L253.5,97.4 L252.5,97.4 L251.5,97.4 L250.5,97.4 L249.5,97.0 L248.5,97.0 L247.5,97.1 L246.5,97.3 L245.5,96.9 L244.5,97.6 L243.5,97.2 L242.5,97.3 L241.5,97.4 L240.5,96.7 L239.5,97.3 L238.5,97.3 L237.5,96.6 L236.5,96.4 L235.5,97.0 L234.5,97.0 L233.5,96.9 L232.5,96.5 L231.5,96.6 L230.5,96.1 L229.5,96.1 L228.5,96.3 L227.5,96.4 L226.5,95.7 L225.5,96.3 L224.5,95.4 L223.5,96.1 L222.5,95.3 L221.5,95.6 L220.5,95.5 L219.5,95.5 L218.5,94.9 L217.5,95.0 L216.5,94.5 L215.5,94.8 L214.5,94.1 L213.5,94.7 L212.5,94.3 L211.5,93.7 L210.5,94.4 L209.5,93.7 L208.5,93.4 L207.5,93.4 L206.5,93.1 L205.5,93.2 L204.5,93.5 L203.5,93.6 L202.5,93.1 L201.5,93.2 L200.5,93.0 L199.5,92.7 L198.5,92.3 L197.5,92.0 L196.5,91.8 L195.5,92.0 L194.5,91.6 L193.5,92.0 L192.5,91.5 L191.5,91.6 L190.5,91.5 L189.5,91.6 L188.5,91.4 L187.5,91.7 L186.5,92.2 L185.5,92.0 L184.5,92.6 L183.5,93.0 L182.5,92.7 L181.5,93.4 L180.5,93.3 L179.5,93.9 L178.5,93.7 L177.5,94.2 L176.5,94.4 L175.5,93.5 L174.5,93.3 L173.5,92.9 L172.5,92.4 L171.5,92.1 L170.5,91.8 L169.5,91.3 L168.5,91.0 L167.5,90.2 L166.5,90.5 L165.5,90.2 L164.5,90.3 L163.5,89.2 L162.5,89.2 L161.5,89.8 L160.5,89.1 L159.5,89.2 L158.5,88.9 L157.5,88.6 L156.5,88.5 L155.5,88.5 L154.5,88.7 L153.5,88.2 L152.5,88.3 L151.5,87.7 L150.5,87.9 L149.5,87.6 L148.5,87.5 L147.5,87.5 L146.5,86.6 L145.5,87.3 L144.5,87.0 L143.5,86.7 L142.5,86.9 L141.5,86.5 L140.5,86.6 L139.5,86.8 L138.5,86.3 L137.5,86.1 L136.5,85.1 L135.5,84.6 L134.5,84.6 L133.5,84.6 L132.5,84.6 L131.5,84.1 L130.5,84.4 L129.5,84.1 L128.5,83.7 L127.5,84.0 L126.5,83.2 L125.5,83.5 L124.5,83.0 L123.5,82.7 L122.5,82.9 L121.5,82.8 L120.5,82.7 L119.5,82.4 L118.5,82.8 L117.5,82.6 L116.5,82.0 L115.5,81.8 L114.5,82.6 L113.5,82.0 L112.5,81.7 L111.5,81.6 L110.5,82.0 L109.5,81.4 L108.5,81.5 L107.5,81.6 L106.5,81.1 L105.5,81.0 L104.5,80.9 L103.5,80.4 L102.5,79.9 L101.5,79.5 L100.5,78.7 L99.5,78.5 L98.5,77.9 L97.5,77.3 L96.5,76.6 L95.5,76.3 L94.5,75.4 L93.5,75.6 L92.5,75.5 L91.5,74.4 L90.5,74.3 L89.5,74.7 L88.5,73.6 L87.5,74.0 L86.5,73.5 L85.5,72.8 L84.5,73.0 L83.5,72.2 L82.5,72.7 L81.5,71.9 L80.5,72.2 L79.5,72.0 L78.5,71.0 L77.5,70.9 L76.5,70.4 L75.5,70.7 L74.5,69.8 L73.5,69.8 L72.5,70.2 L71.5,71.3 L70.5,71.2 L69.5,71.8 L68.5,72.0 L67.5,71.7 L66.5,71.2 L65.5,71.0 L64.5,69.5 L63.5,68.6 L62.5,69.1 L61.5,69.8 L60.5,71.0 L59.5,72.5 L58.5,72.6 L57.5,73.8 L56.5,74.1 L55.5,73.9 L54.5,73.6 L53.5,72.8 L52.5,72.9 L51.5,71.4 L50.5,69.8 L49.5,68.9Z" fill="#ff0000"/>
<circle cx="480" cy="110.6" r="4.6" fill="#0000ff"/><circle cx="480" cy="108.2" r="4.6" fill="#ff0000"/><circle cx="478.8" cy="107.4" r="1.5" fill="#fff"/>
<path d="M49.5,239.5 L49.5,13.5 L487.5,13.5" fill="none" stroke="#4a4a4a" stroke-width="1"/>
<defs><linearGradient id="gx" gradientUnits="userSpaceOnUse" x1="49.5" y1="0" x2="487.5" y2="0"><stop offset="0" stop-color="#444"/><stop offset="0.55" stop-color="#555"/><stop offset="0.75" stop-color="#5050c8"/><stop offset="1" stop-color="#4848d8"/></linearGradient><linearGradient id="gy" gradientUnits="userSpaceOnUse" x1="0" y1="13.5" x2="0" y2="239.5"><stop offset="0" stop-color="#484848"/><stop offset="0.5" stop-color="#555566"/><stop offset="0.72" stop-color="#4a4ac8"/><stop offset="1" stop-color="#4848d8"/></linearGradient></defs>
<rect x="49.0" y="239.0" width="439.0" height="1" fill="url(#gx)"/>
<rect x="487.0" y="13.5" width="1" height="226.0" fill="url(#gy)"/>
<line x1="45.5" y1="239.5" x2="49.5" y2="239.5" stroke="#333" stroke-width="1"/>
<text x="42.5" y="243.8" font-size="12.1" fill="#111" text-anchor="end" font-weight="normal" >0</text>
<line x1="47.5" y1="222.1" x2="49.5" y2="222.1" stroke="#333" stroke-width="1"/>
<line x1="45.5" y1="204.7" x2="49.5" y2="204.7" stroke="#333" stroke-width="1"/>
<text x="42.5" y="209.0" font-size="12.1" fill="#111" text-anchor="end" font-weight="normal" >20</text>
<line x1="47.5" y1="187.3" x2="49.5" y2="187.3" stroke="#333" stroke-width="1"/>
<line x1="45.5" y1="170.0" x2="49.5" y2="170.0" stroke="#333" stroke-width="1"/>
<text x="42.5" y="174.3" font-size="12.1" fill="#111" text-anchor="end" font-weight="normal" >40</text>
<line x1="47.5" y1="152.6" x2="49.5" y2="152.6" stroke="#333" stroke-width="1"/>
<line x1="45.5" y1="135.2" x2="49.5" y2="135.2" stroke="#333" stroke-width="1"/>
<text x="42.5" y="139.5" font-size="12.1" fill="#111" text-anchor="end" font-weight="normal" >60</text>
<line x1="47.5" y1="117.8" x2="49.5" y2="117.8" stroke="#333" stroke-width="1"/>
<line x1="45.5" y1="100.4" x2="49.5" y2="100.4" stroke="#333" stroke-width="1"/>
<text x="42.5" y="104.7" font-size="12.1" fill="#111" text-anchor="end" font-weight="normal" >80</text>
<line x1="47.5" y1="83.0" x2="49.5" y2="83.0" stroke="#333" stroke-width="1"/>
<line x1="45.5" y1="65.7" x2="49.5" y2="65.7" stroke="#333" stroke-width="1"/>
<text x="42.5" y="70.0" font-size="12.1" fill="#111" text-anchor="end" font-weight="normal" >100</text>
<line x1="47.5" y1="48.3" x2="49.5" y2="48.3" stroke="#333" stroke-width="1"/>
<line x1="45.5" y1="30.9" x2="49.5" y2="30.9" stroke="#333" stroke-width="1"/>
<text x="42.5" y="35.2" font-size="12.1" fill="#111" text-anchor="end" font-weight="normal" >120</text>
<line x1="47.5" y1="13.5" x2="49.5" y2="13.5" stroke="#333" stroke-width="1"/>
<line x1="49.5" y1="239.5" x2="49.5" y2="243.0" stroke="#333" stroke-width="1"/>
<text x="49.5" y="256.0" font-size="12.8" fill="#111" text-anchor="middle" font-weight="normal" >0</text>
<line x1="112.0" y1="239.5" x2="112.0" y2="241.5" stroke="#333" stroke-width="1"/>
<line x1="174.5" y1="239.5" x2="174.5" y2="243.0" stroke="#333" stroke-width="1"/>
<text x="174.5" y="256.0" font-size="12.8" fill="#111" text-anchor="middle" font-weight="normal" >1000</text>
<line x1="237.0" y1="239.5" x2="237.0" y2="241.5" stroke="#333" stroke-width="1"/>
<line x1="299.5" y1="239.5" x2="299.5" y2="243.0" stroke="#333" stroke-width="1"/>
<text x="299.5" y="256.0" font-size="12.8" fill="#111" text-anchor="middle" font-weight="normal" >2000</text>
<line x1="362.0" y1="239.5" x2="362.0" y2="241.5" stroke="#333" stroke-width="1"/>
<line x1="424.5" y1="239.5" x2="424.5" y2="243.0" stroke="#333" stroke-width="1"/>
<text x="424.5" y="256.0" font-size="12.8" fill="#111" text-anchor="middle" font-weight="normal" >3000</text>
<line x1="487.0" y1="239.5" x2="487.0" y2="241.5" stroke="#333" stroke-width="1"/>
<line x1="484.0" y1="239.5" x2="487.5" y2="239.5" stroke="#333" stroke-width="1"/>
<text x="492.0" y="243.8" font-size="12.1" fill="#111" text-anchor="start" font-weight="normal" >20</text>
<line x1="485.5" y1="214.4" x2="487.5" y2="214.4" stroke="#333" stroke-width="1"/>
<line x1="484.0" y1="189.3" x2="487.5" y2="189.3" stroke="#333" stroke-width="1"/>
<text x="492.0" y="193.6" font-size="12.1" fill="#111" text-anchor="start" font-weight="normal" >40</text>
<line x1="485.5" y1="164.2" x2="487.5" y2="164.2" stroke="#333" stroke-width="1"/>
<line x1="484.0" y1="139.1" x2="487.5" y2="139.1" stroke="#333" stroke-width="1"/>
<text x="492.0" y="143.4" font-size="12.1" fill="#111" text-anchor="start" font-weight="normal" >60</text>
<line x1="485.5" y1="113.9" x2="487.5" y2="113.9" stroke="#333" stroke-width="1"/>
<line x1="484.0" y1="88.8" x2="487.5" y2="88.8" stroke="#333" stroke-width="1"/>
<text x="492.0" y="93.1" font-size="12.1" fill="#111" text-anchor="start" font-weight="normal" >80</text>
<line x1="485.5" y1="63.7" x2="487.5" y2="63.7" stroke="#333" stroke-width="1"/>
<line x1="484.0" y1="38.6" x2="487.5" y2="38.6" stroke="#333" stroke-width="1"/>
<text x="492.0" y="42.9" font-size="12.1" fill="#111" text-anchor="start" font-weight="normal" >100</text>
<line x1="485.5" y1="13.5" x2="487.5" y2="13.5" stroke="#333" stroke-width="1"/>
<text x="25.3" y="12.9" font-size="20.3" fill="#000" text-anchor="start" font-weight="normal" >a</text>
<text transform="translate(17.6,212.4) rotate(-90)" font-size="14.3" fill="#111">Specific capacity (mAh g<tspan dx="0.6" dy="-4.3" font-size="10.6">-1</tspan><tspan dx="1.8" dy="4.3">)</tspan></text>
<text transform="translate(528.4,205.3) rotate(-90)" font-size="14.3" fill="#111">Coulombic efficiency (%)</text>
<text x="231.0" y="277.5" font-size="14.5" fill="#111" text-anchor="start" font-weight="normal" >N&#186; of cycles</text>
<text x="54.3" y="233.8" font-size="12.2" fill="#111" text-anchor="start" font-weight="bold" >@1C</text>
<text x="194.2" y="67.6" font-size="11.9" fill="#2222dd" text-anchor="start" font-weight="normal" >Discharge Cap.retention: 75%</text>
<text x="217.6" y="79.6" font-size="9.65" fill="#2222dd" text-anchor="start" font-weight="normal" >Cycling period: 127 days</text>
<line x1="350" y1="208.1" x2="371.5" y2="208.1" stroke="#2222dd" stroke-width="1"/>
<circle cx="361" cy="208.1" r="3.6" fill="#2222dd"/><circle cx="360" cy="206.9" r="1" fill="#fff" opacity="0.8"/>
<text x="375.8" y="212.3" font-size="11.85" fill="#2222dd" text-anchor="start" font-weight="normal" >Discharge capacity</text>
<line x1="350" y1="222.6" x2="371.5" y2="222.6" stroke="#f02020" stroke-width="1"/>
<circle cx="361" cy="222.6" r="3.6" fill="#f02020"/><circle cx="360" cy="221.4" r="1" fill="#fff" opacity="0.8"/>
<text x="375.8" y="226.8" font-size="11.85" fill="#f02020" text-anchor="start" font-weight="normal" >Charge capacity</text>
<path d="M420.7,70.9 L487.4,70.9 M420.7,70.9 L420.7,59" fill="none" stroke="#222" stroke-width="1"/>
<path d="M420.7,56 L418.6,61 L422.8,61Z" fill="#222"/>
<rect x="49.5" y="50.5" width="30" height="59.5" fill="none" stroke="#333" stroke-width="1"/>
<path d="M61.5,110 L61.5,129.8 L74,129.8" fill="none" stroke="#666" stroke-width="0.8"/>
<path d="M79.5,129.8 L73.5,127.6 L73.5,132Z" fill="#111"/>
<rect x="98.7" y="101.3" width="157.60000000000002" height="119.2" fill="#fff"/>
<path d="M98.7,111.4 L100.7,111.6 L102.7,111.4 L104.7,111.5 L106.7,111.5 L108.7,111.5 L110.7,111.5 L112.7,111.5 L114.7,111.4 L116.7,111.6 L118.7,111.7 L120.7,111.5 L122.7,111.4 L124.7,111.7 L126.7,111.4 L128.7,111.4 L130.7,111.6 L132.7,111.6 L134.7,111.5 L136.7,111.3 L138.7,111.7 L140.7,111.4 L142.7,111.4 L144.7,111.7 L146.7,111.6 L148.7,111.6 L150.7,111.3 L152.7,111.6 L154.7,111.5 L156.7,111.3 L158.7,111.6 L160.7,111.7 L162.7,111.3 L164.7,111.5 L166.7,111.7 L168.7,111.4 L170.7,111.4 L172.7,111.6 L174.7,111.5 L176.7,111.7 L178.7,111.6 L180.7,111.6 L182.7,111.6 L184.7,111.4 L186.7,111.6 L188.7,111.5 L190.7,111.5 L192.7,111.5 L194.7,111.4 L196.7,111.4 L198.7,111.7 L200.7,111.4 L202.7,111.3 L204.7,111.7 L206.7,111.5 L208.7,111.6 L210.7,111.4 L212.7,111.4 L214.7,111.4 L216.7,111.6 L218.7,111.4 L220.7,111.7 L222.7,111.4 L224.7,111.7 L226.7,111.4 L228.7,111.5 L230.7,111.4 L232.7,111.4 L234.7,111.5 L236.7,111.4 L238.7,111.5 L240.7,111.4 L242.7,111.4 L244.7,111.4 L246.7,111.7 L248.7,111.3 L250.7,111.5 L252.7,111.6 L254.7,111.5 L254.7,115.8 L252.7,116.1 L250.7,115.7 L248.7,115.8 L246.7,115.7 L244.7,115.9 L242.7,116.0 L240.7,115.8 L238.7,115.8 L236.7,116.0 L234.7,115.7 L232.7,115.7 L230.7,116.0 L228.7,115.7 L226.7,115.9 L224.7,115.8 L222.7,115.9 L220.7,116.0 L218.7,115.9 L216.7,115.8 L214.7,115.9 L212.7,116.0 L210.7,115.7 L208.7,115.8 L206.7,115.9 L204.7,115.9 L202.7,115.8 L200.7,116.0 L198.7,115.8 L196.7,116.1 L194.7,115.8 L192.7,115.8 L190.7,115.7 L188.7,115.8 L186.7,115.8 L184.7,116.1 L182.7,115.9 L180.7,115.9 L178.7,116.1 L176.7,116.1 L174.7,116.0 L172.7,115.8 L170.7,115.8 L168.7,115.9 L166.7,115.8 L164.7,115.8 L162.7,115.8 L160.7,115.8 L158.7,116.0 L156.7,115.9 L154.7,115.9 L152.7,115.9 L150.7,115.9 L148.7,116.0 L146.7,115.7 L144.7,116.0 L142.7,115.9 L140.7,115.8 L138.7,116.1 L136.7,116.0 L134.7,115.8 L132.7,115.7 L130.7,115.9 L128.7,115.9 L126.7,115.8 L124.7,115.7 L122.7,115.9 L120.7,115.8 L118.7,116.0 L116.7,115.9 L114.7,115.8 L112.7,116.0 L110.7,115.9 L108.7,115.7 L106.7,115.8 L104.7,115.7 L102.7,115.9 L100.7,116.1 L98.7,116.1Z" fill="#000"/>
<path d="M98.7,129.1 L99.7,128.8 L100.7,128.8 L101.7,128.8 L102.7,128.9 L103.7,129.1 L104.7,128.7 L105.7,129.0 L106.7,129.0 L107.7,129.1 L108.7,129.2 L109.7,128.9 L110.7,129.1 L111.7,128.9 L112.7,129.0 L113.7,129.1 L114.7,128.8 L115.7,129.2 L116.7,129.2 L117.7,129.1 L118.7,129.2 L119.7,129.7 L120.7,129.6 L121.7,129.7 L122.7,130.0 L123.7,130.4 L124.7,130.6 L125.7,131.0 L126.7,131.5 L127.7,131.2 L128.7,130.9 L129.7,130.7 L130.7,130.3 L131.7,130.4 L132.7,130.2 L133.7,130.5 L134.7,130.3 L135.7,129.7 L136.7,130.2 L137.7,130.2 L138.7,130.4 L139.7,131.1 L140.7,131.4 L141.7,131.0 L142.7,130.3 L143.7,130.1 L144.7,129.5 L145.7,129.2 L146.7,129.1 L147.7,129.1 L148.7,129.1 L149.7,128.7 L150.7,128.6 L151.7,128.8 L152.7,128.8 L153.7,128.6 L154.7,128.9 L155.7,128.8 L156.7,128.7 L157.7,128.5 L158.7,128.6 L159.7,128.3 L160.7,128.7 L161.7,128.3 L162.7,128.7 L163.7,128.6 L164.7,128.4 L165.7,128.3 L166.7,128.6 L167.7,128.5 L168.7,128.6 L169.7,128.3 L170.7,128.7 L171.7,128.5 L172.7,128.5 L173.7,128.6 L174.7,128.6 L175.7,128.5 L176.7,128.4 L177.7,128.5 L178.7,128.2 L179.7,128.4 L180.7,128.7 L181.7,128.3 L182.7,128.4 L183.7,128.9 L184.7,128.6 L185.7,128.8 L186.7,128.9 L187.7,129.0 L188.7,128.8 L189.7,129.1 L190.7,128.7 L191.7,129.4 L192.7,129.2 L193.7,129.6 L194.7,129.7 L195.7,130.1 L196.7,130.1 L197.7,130.5 L198.7,130.5 L199.7,130.5 L200.7,130.0 L201.7,129.2 L202.7,129.3 L203.7,129.4 L204.7,129.0 L205.7,129.0 L206.7,129.4 L207.7,129.4 L208.7,128.9 L209.7,129.3 L210.7,129.3 L211.7,128.9 L212.7,129.2 L213.7,128.9 L214.7,129.2 L215.7,129.0 L216.7,129.0 L217.7,128.8 L218.7,129.1 L219.7,129.2 L220.7,128.9 L221.7,128.8 L222.7,128.9 L223.7,129.0 L224.7,129.5 L225.7,129.3 L226.7,129.4 L227.7,129.4 L228.7,129.0 L229.7,129.2 L230.7,129.6 L231.7,129.5 L232.7,129.6 L233.7,129.5 L234.7,129.5 L235.7,129.6 L236.7,129.7 L237.7,129.4 L238.7,129.2 L239.7,129.4 L240.7,129.2 L241.7,129.4 L242.7,129.7 L243.7,129.5 L244.7,129.5 L245.7,129.5 L246.7,129.7 L247.7,129.8 L248.7,129.9 L249.7,130.1 L250.7,129.6 L251.7,129.8 L252.7,129.7 L253.7,130.3 L254.7,130.1 L255.7,130.2 L255.7,133.8 L254.7,133.4 L253.7,133.2 L252.7,133.6 L251.7,133.6 L250.7,133.2 L249.7,133.2 L248.7,133.1 L247.7,133.3 L246.7,132.9 L245.7,133.0 L244.7,133.0 L243.7,133.1 L242.7,133.1 L241.7,132.8 L240.7,132.7 L239.7,132.7 L238.7,132.7 L237.7,132.6 L236.7,132.9 L235.7,132.9 L234.7,132.6 L233.7,132.7 L232.7,132.5 L231.7,132.5 L230.7,132.7 L229.7,132.6 L228.7,132.5 L227.7,132.7 L226.7,132.6 L225.7,132.5 L224.7,132.4 L223.7,132.6 L222.7,132.6 L221.7,132.8 L220.7,132.7 L219.7,132.6 L218.7,132.5 L217.7,132.7 L216.7,132.4 L215.7,132.4 L214.7,132.6 L213.7,132.8 L212.7,132.7 L211.7,132.9 L210.7,132.5 L209.7,132.7 L208.7,132.6 L207.7,132.4 L206.7,132.7 L205.7,132.5 L204.7,132.8 L203.7,132.9 L202.7,132.7 L201.7,133.1 L200.7,133.3 L199.7,133.8 L198.7,133.7 L197.7,133.6 L196.7,133.5 L195.7,133.2 L194.7,132.9 L193.7,132.5 L192.7,132.4 L191.7,132.3 L190.7,131.9 L189.7,132.4 L188.7,131.9 L187.7,131.8 L186.7,131.8 L185.7,132.0 L184.7,132.0 L183.7,132.0 L182.7,131.8 L181.7,131.9 L180.7,131.7 L179.7,131.6 L178.7,131.9 L177.7,131.6 L176.7,131.9 L175.7,131.9 L174.7,131.9 L173.7,132.0 L172.7,131.7 L171.7,132.0 L170.7,131.7 L169.7,131.7 L168.7,131.8 L167.7,132.0 L166.7,131.7 L165.7,132.0 L164.7,131.8 L163.7,131.8 L162.7,131.7 L161.7,132.0 L160.7,131.8 L159.7,131.8 L158.7,132.0 L157.7,131.7 L156.7,132.0 L155.7,131.6 L154.7,131.9 L153.7,132.1 L152.7,132.0 L151.7,132.2 L150.7,132.1 L149.7,131.8 L148.7,132.1 L147.7,131.8 L146.7,131.9 L145.7,132.1 L144.7,132.9 L143.7,133.1 L142.7,133.7 L141.7,134.3 L140.7,134.3 L139.7,133.9 L138.7,134.1 L137.7,133.7 L136.7,133.6 L135.7,133.4 L134.7,133.4 L133.7,133.6 L132.7,133.6 L131.7,134.2 L130.7,134.1 L129.7,134.3 L128.7,134.5 L127.7,135.0 L126.7,135.1 L125.7,134.6 L124.7,133.9 L123.7,133.7 L122.7,133.5 L121.7,133.1 L120.7,132.9 L119.7,133.0 L118.7,132.8 L117.7,132.7 L116.7,132.4 L115.7,132.3 L114.7,132.1 L113.7,132.1 L112.7,132.2 L111.7,132.2 L110.7,132.1 L109.7,132.0 L108.7,131.9 L107.7,131.9 L106.7,132.1 L105.7,132.3 L104.7,132.1 L103.7,132.5 L102.7,132.3 L101.7,132.1 L100.7,132.6 L99.7,132.7 L98.7,132.7Z" fill="#0000ff"/>
<path d="M98.7,125.6 L99.7,126.0 L100.7,125.9 L101.7,125.6 L102.7,125.5 L103.7,125.9 L104.7,126.0 L105.7,125.9 L106.7,125.8 L107.7,125.7 L108.7,125.9 L109.7,125.9 L110.7,125.8 L111.7,125.5 L112.7,125.7 L113.7,125.8 L114.7,125.7 L115.7,125.5 L116.7,125.8 L117.7,126.3 L118.7,126.3 L119.7,126.8 L120.7,126.8 L121.7,127.1 L122.7,127.0 L123.7,127.4 L124.7,127.8 L125.7,128.4 L126.7,129.0 L127.7,128.3 L128.7,127.6 L129.7,127.6 L130.7,127.1 L131.7,127.0 L132.7,127.0 L133.7,127.3 L134.7,127.0 L135.7,127.1 L136.7,127.4 L137.7,127.6 L138.7,127.3 L139.7,127.9 L140.7,128.2 L141.7,128.0 L142.7,127.7 L143.7,127.2 L144.7,126.5 L145.7,126.1 L146.7,125.7 L147.7,125.4 L148.7,125.4 L149.7,125.7 L150.7,125.3 L151.7,125.3 L152.7,125.5 L153.7,125.3 L154.7,125.3 L155.7,125.0 L156.7,125.0 L157.7,124.7 L158.7,124.7 L159.7,124.7 L160.7,124.9 L161.7,124.9 L162.7,124.7 L163.7,125.0 L164.7,124.7 L165.7,124.9 L166.7,124.7 L167.7,125.0 L168.7,124.8 L169.7,125.3 L170.7,124.9 L171.7,125.2 L172.7,125.0 L173.7,124.9 L174.7,125.3 L175.7,124.9 L176.7,125.1 L177.7,125.2 L178.7,125.4 L179.7,125.2 L180.7,124.9 L181.7,125.2 L182.7,125.6 L183.7,125.6 L184.7,125.4 L185.7,125.3 L186.7,125.4 L187.7,125.8 L188.7,125.5 L189.7,126.0 L190.7,125.7 L191.7,126.2 L192.7,126.4 L193.7,126.4 L194.7,126.8 L195.7,127.2 L196.7,127.2 L197.7,127.6 L198.7,127.9 L199.7,127.7 L200.7,126.6 L201.7,125.9 L202.7,125.9 L203.7,125.9 L204.7,125.9 L205.7,126.1 L206.7,125.7 L207.7,125.8 L208.7,125.8 L209.7,125.6 L210.7,125.8 L211.7,125.8 L212.7,125.7 L213.7,125.9 L214.7,126.0 L215.7,126.0 L216.7,125.5 L217.7,125.6 L218.7,126.0 L219.7,125.5 L220.7,125.5 L221.7,125.5 L222.7,126.1 L223.7,125.8 L224.7,125.8 L225.7,125.6 L226.7,126.1 L227.7,126.2 L228.7,126.1 L229.7,126.2 L230.7,126.0 L231.7,125.9 L232.7,125.8 L233.7,125.9 L234.7,125.9 L235.7,126.0 L236.7,125.9 L237.7,125.9 L238.7,126.4 L239.7,126.4 L240.7,126.4 L241.7,126.2 L242.7,126.3 L243.7,126.4 L244.7,126.5 L245.7,126.3 L246.7,126.5 L247.7,126.5 L248.7,126.7 L249.7,126.5 L250.7,126.3 L251.7,126.6 L252.7,126.9 L253.7,126.5 L254.7,126.8 L255.7,126.6 L255.7,131.4 L254.7,131.6 L253.7,131.3 L252.7,131.4 L251.7,131.5 L250.7,131.3 L249.7,131.5 L248.7,131.5 L247.7,131.2 L246.7,131.4 L245.7,131.4 L244.7,131.2 L243.7,131.2 L242.7,131.1 L241.7,131.2 L240.7,131.1 L239.7,130.9 L238.7,131.1 L237.7,131.1 L236.7,130.9 L235.7,131.1 L234.7,130.8 L233.7,130.9 L232.7,130.9 L231.7,130.9 L230.7,130.6 L229.7,130.9 L228.7,130.5 L227.7,130.7 L226.7,130.7 L225.7,130.8 L224.7,130.9 L223.7,130.9 L222.7,130.4 L221.7,130.8 L220.7,130.5 L219.7,130.5 L218.7,130.2 L217.7,130.7 L216.7,130.4 L215.7,130.4 L214.7,130.4 L213.7,130.4 L212.7,130.4 L211.7,130.5 L210.7,130.6 L209.7,130.5 L208.7,130.8 L207.7,130.9 L206.7,130.9 L205.7,130.6 L204.7,130.8 L203.7,130.8 L202.7,130.8 L201.7,130.8 L200.7,131.2 L199.7,132.0 L198.7,132.2 L197.7,131.8 L196.7,131.8 L195.7,131.2 L194.7,131.5 L193.7,131.3 L192.7,131.1 L191.7,130.4 L190.7,130.6 L189.7,130.6 L188.7,130.2 L187.7,130.4 L186.7,130.1 L185.7,130.1 L184.7,129.9 L183.7,130.0 L182.7,130.3 L181.7,130.1 L180.7,130.2 L179.7,130.3 L178.7,129.8 L177.7,130.2 L176.7,130.2 L175.7,130.1 L174.7,129.9 L173.7,129.8 L172.7,130.0 L171.7,129.9 L170.7,129.9 L169.7,130.1 L168.7,130.1 L167.7,129.9 L166.7,129.8 L165.7,130.0 L164.7,130.1 L163.7,130.1 L162.7,130.1 L161.7,130.2 L160.7,130.2 L159.7,130.0 L158.7,130.1 L157.7,130.1 L156.7,130.0 L155.7,129.9 L154.7,130.1 L153.7,130.3 L152.7,130.4 L151.7,130.1 L150.7,130.3 L149.7,130.1 L148.7,130.4 L147.7,130.4 L146.7,130.6 L145.7,130.8 L144.7,130.7 L143.7,131.6 L142.7,131.6 L141.7,132.6 L140.7,132.9 L139.7,132.2 L138.7,132.0 L137.7,131.6 L136.7,131.8 L135.7,131.6 L134.7,131.8 L133.7,131.8 L132.7,131.7 L131.7,132.1 L130.7,131.9 L129.7,132.0 L128.7,132.3 L127.7,133.0 L126.7,133.0 L125.7,132.6 L124.7,132.2 L123.7,132.1 L122.7,131.6 L121.7,131.4 L120.7,131.2 L119.7,131.0 L118.7,131.0 L117.7,130.6 L116.7,130.5 L115.7,130.4 L114.7,130.5 L113.7,130.7 L112.7,130.6 L111.7,130.6 L110.7,130.8 L109.7,130.7 L108.7,130.4 L107.7,130.3 L106.7,130.5 L105.7,130.3 L104.7,130.6 L103.7,130.2 L102.7,130.4 L101.7,130.6 L100.7,130.4 L99.7,130.3 L98.7,130.6Z" fill="#ff0000"/>
<path d="M98.7,220.5 L98.7,101.3" stroke="#444" stroke-width="0.9" fill="none"/>
<path d="M98.7,101.3 L256.3,101.3 L256.3,220.5" stroke="#6a6ad8" stroke-width="0.8" fill="none"/>
<path d="M98.7,220.5 L256.3,220.5" stroke="#6a6ad0" stroke-width="0.8" fill="none"/>
<line x1="95.7" y1="220.5" x2="98.7" y2="220.5" stroke="#444" stroke-width="0.8"/>
<text x="94.6" y="223.7" font-size="9.0" fill="#2a2a2a" text-anchor="end" font-weight="normal" >0</text>
<line x1="96.9" y1="211.3" x2="98.7" y2="211.3" stroke="#444" stroke-width="0.8"/>
<line x1="95.7" y1="202.2" x2="98.7" y2="202.2" stroke="#444" stroke-width="0.8"/>
<text x="94.6" y="205.4" font-size="9.0" fill="#2a2a2a" text-anchor="end" font-weight="normal" >20</text>
<line x1="96.9" y1="193.0" x2="98.7" y2="193.0" stroke="#444" stroke-width="0.8"/>
<line x1="95.7" y1="183.8" x2="98.7" y2="183.8" stroke="#444" stroke-width="0.8"/>
<text x="94.6" y="187.0" font-size="9.0" fill="#2a2a2a" text-anchor="end" font-weight="normal" >40</text>
<line x1="96.9" y1="174.7" x2="98.7" y2="174.7" stroke="#444" stroke-width="0.8"/>
<line x1="95.7" y1="165.5" x2="98.7" y2="165.5" stroke="#444" stroke-width="0.8"/>
<text x="94.6" y="168.7" font-size="9.0" fill="#2a2a2a" text-anchor="end" font-weight="normal" >60</text>
<line x1="96.9" y1="156.3" x2="98.7" y2="156.3" stroke="#444" stroke-width="0.8"/>
<line x1="95.7" y1="147.1" x2="98.7" y2="147.1" stroke="#444" stroke-width="0.8"/>
<text x="94.6" y="150.3" font-size="9.0" fill="#2a2a2a" text-anchor="end" font-weight="normal" >80</text>
<line x1="96.9" y1="138.0" x2="98.7" y2="138.0" stroke="#444" stroke-width="0.8"/>
<line x1="95.7" y1="128.8" x2="98.7" y2="128.8" stroke="#444" stroke-width="0.8"/>
<text x="94.6" y="132.0" font-size="9.0" fill="#2a2a2a" text-anchor="end" font-weight="normal" >100</text>
<line x1="96.9" y1="119.6" x2="98.7" y2="119.6" stroke="#444" stroke-width="0.8"/>
<line x1="95.7" y1="110.5" x2="98.7" y2="110.5" stroke="#444" stroke-width="0.8"/>
<text x="94.6" y="113.7" font-size="9.0" fill="#2a2a2a" text-anchor="end" font-weight="normal" >120</text>
<line x1="96.9" y1="101.3" x2="98.7" y2="101.3" stroke="#444" stroke-width="0.8"/>
<line x1="254.10000000000002" y1="220.5" x2="256.3" y2="220.5" stroke="#5a5a9a" stroke-width="0.8"/>
<text x="259.3" y="223.7" font-size="9.0" fill="#222" text-anchor="start" font-weight="normal" >0</text>
<line x1="254.9" y1="209.7" x2="256.3" y2="209.7" stroke="#5a5a9a" stroke-width="0.8"/>
<line x1="254.10000000000002" y1="198.8" x2="256.3" y2="198.8" stroke="#5a5a9a" stroke-width="0.8"/>
<text x="259.3" y="202.0" font-size="9.0" fill="#222" text-anchor="start" font-weight="normal" >20</text>
<line x1="254.9" y1="188.0" x2="256.3" y2="188.0" stroke="#5a5a9a" stroke-width="0.8"/>
<line x1="254.10000000000002" y1="177.2" x2="256.3" y2="177.2" stroke="#5a5a9a" stroke-width="0.8"/>
<text x="259.3" y="180.4" font-size="9.0" fill="#222" text-anchor="start" font-weight="normal" >40</text>
<line x1="254.9" y1="166.3" x2="256.3" y2="166.3" stroke="#5a5a9a" stroke-width="0.8"/>
<line x1="254.10000000000002" y1="155.5" x2="256.3" y2="155.5" stroke="#5a5a9a" stroke-width="0.8"/>
<text x="259.3" y="158.7" font-size="9.0" fill="#222" text-anchor="start" font-weight="normal" >60</text>
<line x1="254.9" y1="144.6" x2="256.3" y2="144.6" stroke="#5a5a9a" stroke-width="0.8"/>
<line x1="254.10000000000002" y1="133.8" x2="256.3" y2="133.8" stroke="#5a5a9a" stroke-width="0.8"/>
<text x="259.3" y="137.0" font-size="9.0" fill="#222" text-anchor="start" font-weight="normal" >80</text>
<line x1="254.9" y1="123.0" x2="256.3" y2="123.0" stroke="#5a5a9a" stroke-width="0.8"/>
<line x1="254.10000000000002" y1="112.1" x2="256.3" y2="112.1" stroke="#5a5a9a" stroke-width="0.8"/>
<text x="259.3" y="115.3" font-size="9.0" fill="#222" text-anchor="start" font-weight="normal" >100</text>
<line x1="254.9" y1="101.3" x2="256.3" y2="101.3" stroke="#5a5a9a" stroke-width="0.8"/>
<line x1="98.7" y1="220.5" x2="98.7" y2="223.5" stroke="#555" stroke-width="0.8"/>
<text x="98.7" y="231.4" font-size="9.0" fill="#2a2a2a" text-anchor="middle" font-weight="normal" >0</text>
<line x1="114.5" y1="220.5" x2="114.5" y2="222.3" stroke="#555" stroke-width="0.8"/>
<line x1="130.2" y1="220.5" x2="130.2" y2="223.5" stroke="#555" stroke-width="0.8"/>
<text x="130.2" y="231.4" font-size="9.0" fill="#2a2a2a" text-anchor="middle" font-weight="normal" >50</text>
<line x1="146.0" y1="220.5" x2="146.0" y2="222.3" stroke="#555" stroke-width="0.8"/>
<line x1="161.7" y1="220.5" x2="161.7" y2="223.5" stroke="#555" stroke-width="0.8"/>
<text x="161.7" y="231.4" font-size="9.0" fill="#2a2a2a" text-anchor="middle" font-weight="normal" >100</text>
<line x1="177.5" y1="220.5" x2="177.5" y2="222.3" stroke="#555" stroke-width="0.8"/>
<line x1="193.3" y1="220.5" x2="193.3" y2="223.5" stroke="#555" stroke-width="0.8"/>
<text x="193.3" y="231.4" font-size="9.0" fill="#2a2a2a" text-anchor="middle" font-weight="normal" >150</text>
<line x1="209.0" y1="220.5" x2="209.0" y2="222.3" stroke="#555" stroke-width="0.8"/>
<line x1="224.8" y1="220.5" x2="224.8" y2="223.5" stroke="#555" stroke-width="0.8"/>
<text x="224.8" y="231.4" font-size="9.0" fill="#2a2a2a" text-anchor="middle" font-weight="normal" >200</text>
<line x1="240.5" y1="220.5" x2="240.5" y2="222.3" stroke="#555" stroke-width="0.8"/>
<line x1="256.3" y1="220.5" x2="256.3" y2="223.5" stroke="#555" stroke-width="0.8"/>
<text x="256.3" y="231.4" font-size="9.0" fill="#2a2a2a" text-anchor="middle" font-weight="normal" >250</text>
<text x="153.6" y="238.2" font-size="9.8" fill="#333" text-anchor="start" font-weight="normal" >N&#186; of cycles</text>
<text x="124.8" y="149.6" font-size="7.85" fill="#2828d8" text-anchor="start" font-weight="normal" >Discharge Cap.retention: 99%</text>
<line x1="107.1" y1="201.8" x2="121.1" y2="201.8" stroke="#2a2ad0" stroke-width="0.8"/>
<circle cx="114.1" cy="201.8" r="2.6" fill="#2a2ad0"/>
<text x="124.3" y="203.8" font-size="7.85" fill="#2a2ad0" text-anchor="start" font-weight="normal" >Discharge capacity</text>
<line x1="107.1" y1="210.7" x2="121.1" y2="210.7" stroke="#e82020" stroke-width="0.8"/>
<circle cx="114.1" cy="210.7" r="2.6" fill="#e82020"/>
<text x="124.3" y="212.7" font-size="7.85" fill="#e82020" text-anchor="start" font-weight="normal" >Charge capacity</text>
<text x="232.6" y="216.7" font-size="8.6" fill="#333">@<tspan dx="2.0" font-size="8.2" fill="#2a2a90">1C</tspan></text>
<defs><linearGradient id="gb" x1="0" y1="0" x2="0" y2="1"><stop offset="0" stop-color="#fbd9c0"/><stop offset="0.35" stop-color="#efe6c8"/><stop offset="0.62" stop-color="#cdf3d5"/><stop offset="1" stop-color="#a3f6e0"/></linearGradient></defs>
<rect x="39.3" y="293.8" width="235.3" height="159.59999999999997" fill="url(#gb)" stroke="#777" stroke-width="1"/>
<path d="M39.3,293.8 L39.3,453.4 L274.6,453.4" stroke="#444" stroke-width="1" fill="none"/>
<line x1="37.5" y1="453.7" x2="39.3" y2="453.7" stroke="#444" stroke-width="0.9"/>
<line x1="36.3" y1="437.7" x2="39.3" y2="437.7" stroke="#444" stroke-width="0.9"/>
<text x="33.4" y="441.5" font-size="10.6" fill="#222" text-anchor="end" font-weight="normal" >20</text>
<line x1="37.5" y1="421.7" x2="39.3" y2="421.7" stroke="#444" stroke-width="0.9"/>
<line x1="36.3" y1="405.7" x2="39.3" y2="405.7" stroke="#444" stroke-width="0.9"/>
<text x="33.4" y="409.5" font-size="10.6" fill="#222" text-anchor="end" font-weight="normal" >40</text>
<line x1="37.5" y1="389.7" x2="39.3" y2="389.7" stroke="#444" stroke-width="0.9"/>
<line x1="36.3" y1="373.7" x2="39.3" y2="373.7" stroke="#444" stroke-width="0.9"/>
<text x="33.4" y="377.5" font-size="10.6" fill="#222" text-anchor="end" font-weight="normal" >60</text>
<line x1="37.5" y1="357.7" x2="39.3" y2="357.7" stroke="#444" stroke-width="0.9"/>
<line x1="36.3" y1="341.7" x2="39.3" y2="341.7" stroke="#444" stroke-width="0.9"/>
<text x="33.4" y="345.5" font-size="10.6" fill="#222" text-anchor="end" font-weight="normal" >80</text>
<line x1="37.5" y1="325.7" x2="39.3" y2="325.7" stroke="#444" stroke-width="0.9"/>
<line x1="36.3" y1="309.7" x2="39.3" y2="309.7" stroke="#444" stroke-width="0.9"/>
<text x="33.4" y="313.5" font-size="10.6" fill="#222" text-anchor="end" font-weight="normal" >100</text>
<line x1="37.5" y1="293.7" x2="39.3" y2="293.7" stroke="#444" stroke-width="0.9"/>
<line x1="53.2" y1="453.4" x2="53.2" y2="456.4" stroke="#444" stroke-width="0.9"/>
<text x="53.2" y="467.4" font-size="10.6" fill="#222" text-anchor="middle" font-weight="normal" >0</text>
<line x1="80.9" y1="453.4" x2="80.9" y2="455.2" stroke="#444" stroke-width="0.9"/>
<line x1="108.5" y1="453.4" x2="108.5" y2="456.4" stroke="#444" stroke-width="0.9"/>
<text x="108.5" y="467.4" font-size="10.6" fill="#222" text-anchor="middle" font-weight="normal" >40</text>
<line x1="136.2" y1="453.4" x2="136.2" y2="455.2" stroke="#444" stroke-width="0.9"/>
<line x1="163.8" y1="453.4" x2="163.8" y2="456.4" stroke="#444" stroke-width="0.9"/>
<text x="163.8" y="467.4" font-size="10.6" fill="#222" text-anchor="middle" font-weight="normal" >80</text>
<line x1="191.5" y1="453.4" x2="191.5" y2="455.2" stroke="#444" stroke-width="0.9"/>
<line x1="219.2" y1="453.4" x2="219.2" y2="456.4" stroke="#444" stroke-width="0.9"/>
<text x="219.2" y="467.4" font-size="10.6" fill="#222" text-anchor="middle" font-weight="normal" >120</text>
<line x1="246.8" y1="453.4" x2="246.8" y2="455.2" stroke="#444" stroke-width="0.9"/>
<line x1="274.5" y1="453.4" x2="274.5" y2="456.4" stroke="#444" stroke-width="0.9"/>
<text x="274.5" y="467.4" font-size="10.6" fill="#222" text-anchor="middle" font-weight="normal" >160</text>
<text x="13.8" y="299.6" font-size="18.3" fill="#000" text-anchor="start" font-weight="normal" >b</text>
<text transform="translate(12.8,467.0) rotate(-90)" font-size="12" fill="#111">Discharge capacity retention (%)</text>
<text x="102.3" y="485.3" font-size="11.85" fill="#111" text-anchor="start" font-weight="normal" >Cycling period (days)</text>
<line x1="53.2" y1="309.7" x2="124.5" y2="320.5" stroke="#55b89a" stroke-width="1" stroke-dasharray="2.6,1.8"/>
<line x1="53.2" y1="309.7" x2="176.3" y2="343.1" stroke="#f03030" stroke-width="1" stroke-dasharray="2.6,1.8"/>
<line x1="53.2" y1="309.7" x2="229.1" y2="349.9" stroke="#f03030" stroke-width="1" stroke-dasharray="2.6,1.8"/>
<line x1="53.2" y1="309.7" x2="143.1" y2="344.3" stroke="#c58be6" stroke-width="1" stroke-dasharray="2.6,1.8"/>
<line x1="53.2" y1="309.7" x2="129.8" y2="369" stroke="#f09a40" stroke-width="1" stroke-dasharray="2.6,1.8"/>
<line x1="53.2" y1="309.7" x2="93.6" y2="341.5" stroke="#3a9a50" stroke-width="1"/>
<line x1="53.2" y1="309.7" x2="109.7" y2="373.5" stroke="#555" stroke-width="1" stroke-dasharray="2.6,1.8"/>
<line x1="53.2" y1="309.7" x2="68.2" y2="380.2" stroke="#f0b860" stroke-width="1" stroke-dasharray="2.6,1.8"/>
<rect x="50.3" y="306.5" width="6.2" height="6.2" fill="#333"/>
<polygon points="53.4,305.5 54.4,308.3 57.4,308.4 55.1,310.2 55.9,313.1 53.4,311.5 50.9,313.1 51.7,310.2 49.4,308.4 52.4,308.3" fill="#f01818"/>
<polygon points="124.5,316.3 129.3,324.2 119.7,324.2" fill="#1e8fe0"/>
<rect x="140.8" y="342" width="4.6" height="4.6" fill="#b77ee0"/>
<circle cx="93.6" cy="341.5" r="2.3" fill="#2e9a3a"/><circle cx="93.2" cy="340.8" r="0.7" fill="#e8ffe8"/>
<polygon points="132.9,370.8 129.8,372.6 126.7,370.8 126.7,367.2 129.8,365.4 132.9,367.2" fill="#f08a3a"/>
<rect x="106.8" y="370.8" width="5.6" height="5.6" fill="#333"/>
<polygon points="64.2,380.3 70.6,376.3 70.6,384.3" fill="#f0b050"/>
<polygon points="176.3,339.7 177.2,342.1 179.7,342.2 177.7,343.8 178.4,346.2 176.3,344.8 174.2,346.2 174.9,343.8 172.9,342.2 175.4,342.1" fill="#f01818"/>
<polygon points="229.1,345.6 230.2,348.6 233.5,348.8 230.9,350.8 231.8,353.9 229.1,352.1 226.4,353.9 227.3,350.8 224.7,348.8 228.0,348.6" fill="#f01818"/>
<text x="124.5" y="316.0" font-size="8.4" fill="#3a72b0" text-anchor="start" font-weight="normal" >ppQ(0.5C)</text>
<text x="108.8" y="339.2" font-size="8.4" fill="#c080e6" text-anchor="start" font-weight="normal" >TDK(2C)</text>
<text x="85.1" y="353.6" font-size="8.4" fill="#2a9a3a" text-anchor="start" font-weight="normal" >HATN-HHTP@CNT(0.5C)</text>
<text x="137.0" y="370.2" font-size="8.4" fill="#f08a3a" text-anchor="start" font-weight="normal" >TCNQ(2C)</text>
<text x="102.9" y="392.4" font-size="8.4" fill="#111" text-anchor="start" font-weight="normal" >PAQS@MWCNTs(0.5C)</text>
<text x="47.5" y="396.3" font-size="8.4" fill="#f0b050" text-anchor="start" font-weight="normal" >PQ-&#916;(20C)</text>
<text x="169.0" y="334.0" font-size="8.2" fill="#f01818" text-anchor="start" font-weight="bold" >This work (0.5C)</text>
<text x="202.3" y="361.3" font-size="8.2" fill="#f01818" text-anchor="start" font-weight="bold" >This work (1C)</text>
<rect x="296.3" y="294.0" width="235.40000000000003" height="159.5" fill="#fff" stroke="#888" stroke-width="1"/>
<rect x="296.3" y="294.6" width="227.8" height="17" fill="#f0c468"/>
<rect x="296.3" y="313.4" width="104.0" height="17" fill="#c8c8c8"/>
<rect x="296.3" y="332.3" width="84.0" height="17" fill="#f27a2a"/>
<rect x="296.3" y="351.1" width="62.7" height="17" fill="#138a18"/>
<rect x="296.3" y="370.0" width="25.6" height="17" fill="#b070e0"/>
<rect x="296.3" y="388.8" width="19.2" height="17" fill="#f01414"/>
<rect x="296.3" y="407.6" width="16.4" height="17" fill="#1a94dc"/>
<rect x="296.3" y="426.5" width="13.5" height="17" fill="#f01414"/>
<path d="M296.3,294.0 L296.3,453.5 L531.7,453.5" stroke="#444" stroke-width="1" fill="none"/>
<line x1="296.3" y1="453.5" x2="296.3" y2="456.3" stroke="#444" stroke-width="0.9"/>
<text x="296.3" y="467.3" font-size="10.8" fill="#222" text-anchor="middle" font-weight="normal" >0.0</text>
<line x1="314.1" y1="453.5" x2="314.1" y2="455.1" stroke="#444" stroke-width="0.9"/>
<line x1="331.9" y1="453.5" x2="331.9" y2="456.3" stroke="#444" stroke-width="0.9"/>
<text x="331.9" y="467.3" font-size="10.8" fill="#222" text-anchor="middle" font-weight="normal" >0.5</text>
<line x1="349.7" y1="453.5" x2="349.7" y2="455.1" stroke="#444" stroke-width="0.9"/>
<line x1="367.5" y1="453.5" x2="367.5" y2="456.3" stroke="#444" stroke-width="0.9"/>
<text x="367.5" y="467.3" font-size="10.8" fill="#222" text-anchor="middle" font-weight="normal" >1.0</text>
<line x1="385.3" y1="453.5" x2="385.3" y2="455.1" stroke="#444" stroke-width="0.9"/>
<line x1="403.1" y1="453.5" x2="403.1" y2="456.3" stroke="#444" stroke-width="0.9"/>
<text x="403.1" y="467.3" font-size="10.8" fill="#222" text-anchor="middle" font-weight="normal" >1.5</text>
<line x1="420.9" y1="453.5" x2="420.9" y2="455.1" stroke="#444" stroke-width="0.9"/>
<line x1="438.7" y1="453.5" x2="438.7" y2="456.3" stroke="#444" stroke-width="0.9"/>
<text x="438.7" y="467.3" font-size="10.8" fill="#222" text-anchor="middle" font-weight="normal" >2.0</text>
<line x1="456.5" y1="453.5" x2="456.5" y2="455.1" stroke="#444" stroke-width="0.9"/>
<line x1="474.3" y1="453.5" x2="474.3" y2="456.3" stroke="#444" stroke-width="0.9"/>
<text x="474.3" y="467.3" font-size="10.8" fill="#222" text-anchor="middle" font-weight="normal" >2.5</text>
<line x1="492.1" y1="453.5" x2="492.1" y2="455.1" stroke="#444" stroke-width="0.9"/>
<line x1="509.9" y1="453.5" x2="509.9" y2="456.3" stroke="#444" stroke-width="0.9"/>
<text x="509.9" y="467.3" font-size="10.8" fill="#222" text-anchor="middle" font-weight="normal" >3.0</text>
<line x1="527.7" y1="453.5" x2="527.7" y2="455.1" stroke="#444" stroke-width="0.9"/>
<text x="280.8" y="299.8" font-size="17.3" fill="#000" text-anchor="start" font-weight="normal" >c</text>
<text x="334.3" y="487.0" font-size="11.9" fill="#111">Capacity decay (mAh g<tspan dy="-4" font-size="7.7">-1</tspan><tspan dy="4">/ day)</tspan></text>
<text x="424.3" y="306.4" font-size="9.5" fill="#111" text-anchor="middle" font-weight="bold" >3.2</text>
<text x="350.8" y="326.7" font-size="9.5" fill="#111" text-anchor="middle" font-weight="bold" >1.46</text>
<text x="341.5" y="346.3" font-size="9.5" fill="#111" text-anchor="middle" font-weight="bold" >1.18</text>
<text x="319.5" y="363.2" font-size="9.5" fill="#111" text-anchor="middle" font-weight="bold" >0.88</text>
<text x="310.1" y="382.8" font-size="9.5" fill="#111" text-anchor="middle" font-weight="bold" >0.36</text>
<text x="309.8" y="401.4" font-size="9.5" fill="#111" text-anchor="middle" font-weight="bold" >0.27</text>
<text x="308.3" y="420.0" font-size="9.5" fill="#111" text-anchor="middle" font-weight="bold" >0.23</text>
<text x="307.1" y="438.8" font-size="9.5" fill="#111" text-anchor="middle" font-weight="bold" >0.19</text>
<text x="497.4" y="323.0" font-size="10.6" fill="#e8b040" text-anchor="start" font-weight="bold" >PQ-&#916;</text>
<text x="394.7" y="329.6" font-size="10.6" fill="#333" text-anchor="start" font-weight="bold" >PAQS@MWCNTs</text>
<text x="384.9" y="345.6" font-size="10.6" fill="#f27a2a" text-anchor="start" font-weight="bold" >TCNQ</text>
<text x="364.8" y="362.6" font-size="10.6" fill="#129018" text-anchor="start" font-weight="bold" >HATN-HHTP@CNT</text>
<text x="331.0" y="381.6" font-size="10.6" fill="#b070e0" text-anchor="start" font-weight="bold" >TDK</text>
<text x="326.3" y="401.3" font-size="10.3" fill="#f01414" text-anchor="start" font-weight="bold" >This work (0.5C)</text>
<text x="322.9" y="418.6" font-size="10.6" fill="#20a0b8" text-anchor="start" font-weight="bold" >pPQ</text>
<text x="320.2" y="439.0" font-size="10.3" fill="#f01414" text-anchor="start" font-weight="bold" >This work (1C)</text>
</svg>
</body></html>
